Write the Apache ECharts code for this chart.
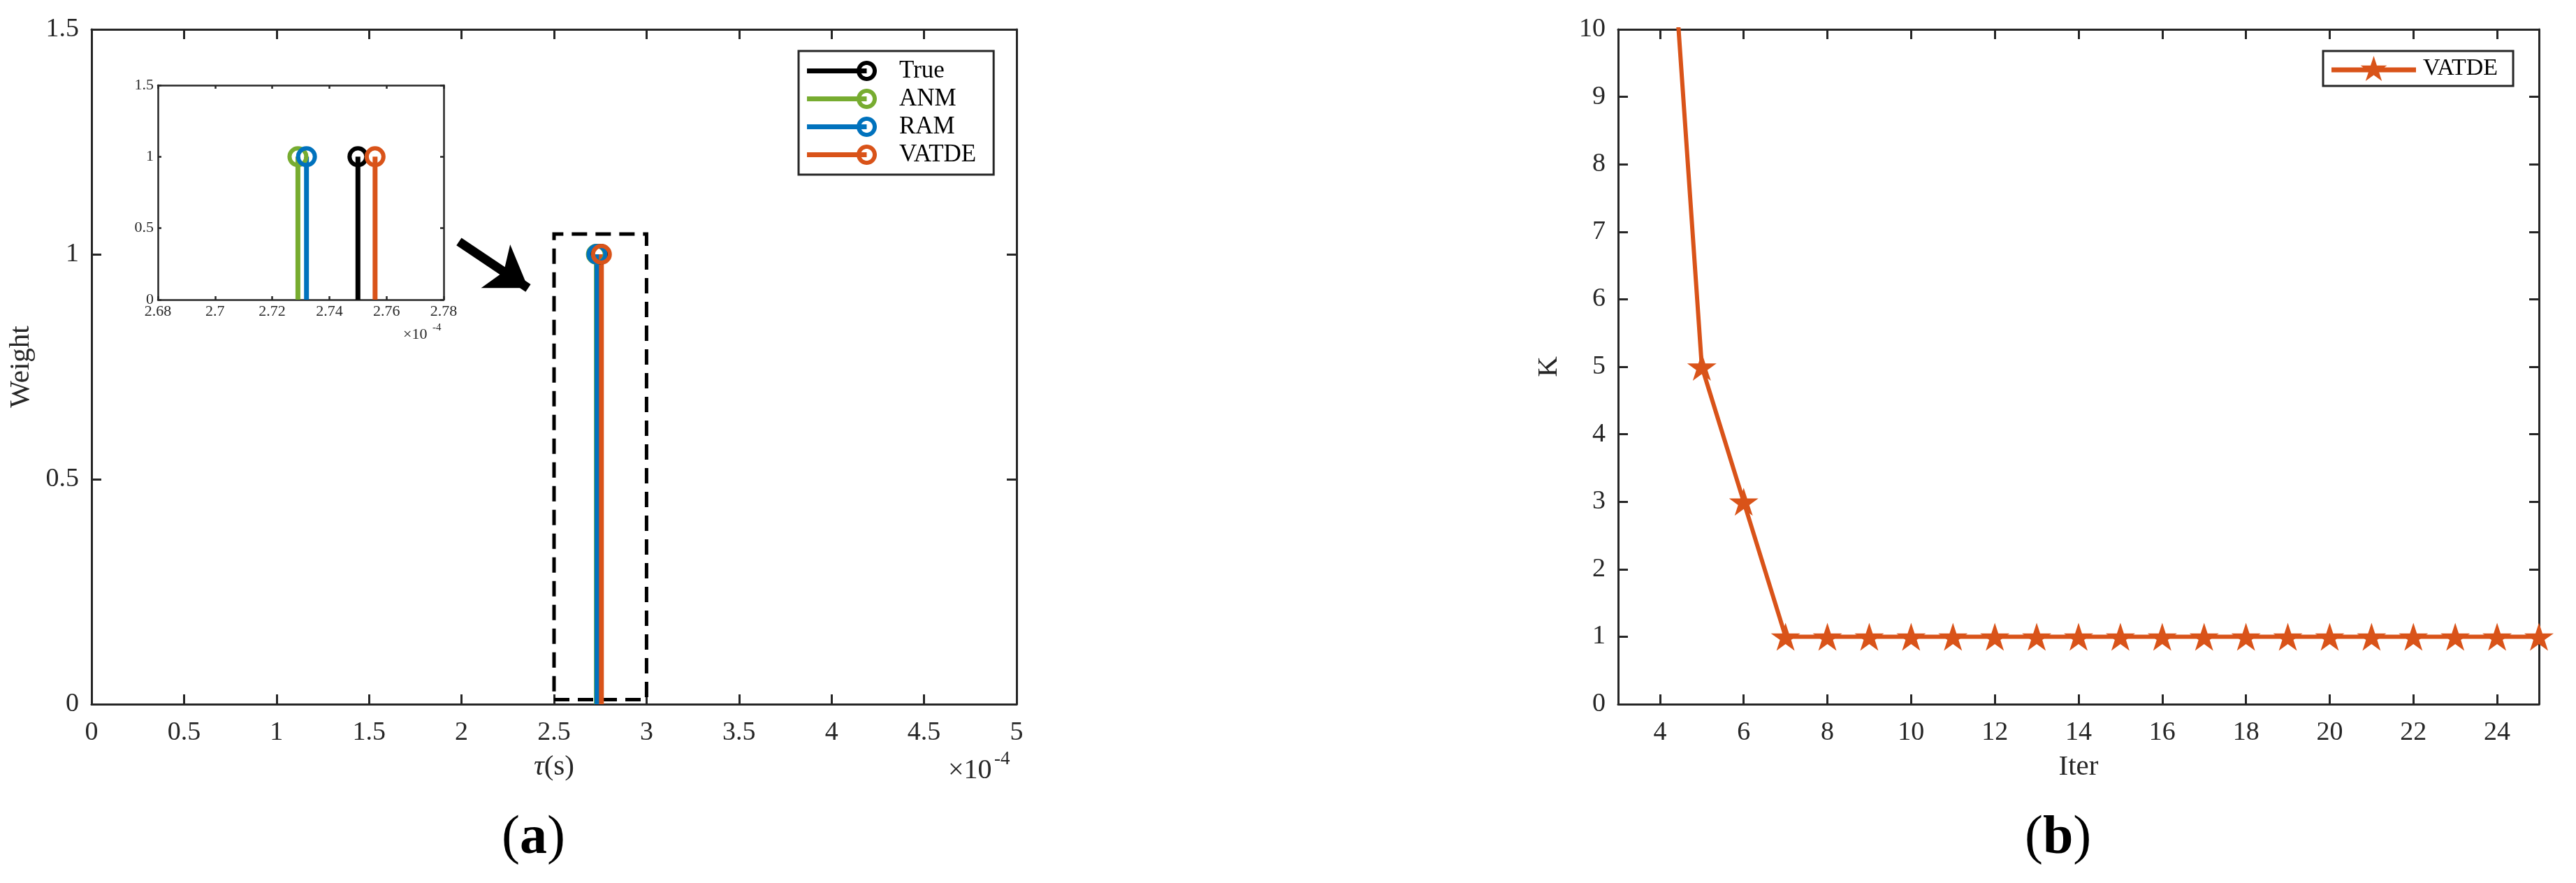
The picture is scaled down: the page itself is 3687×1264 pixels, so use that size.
<!DOCTYPE html>
<html>
<head>
<meta charset="utf-8">
<script src="https://cdn.jsdelivr.net/npm/echarts@6/dist/echarts.min.js"></script>
<style>
  html, body { margin: 0; padding: 0; background: #fff; }
  #chart { width: 3687px; height: 1264px; }
</style>
</head>
<body>
<div id="chart"></div>
<script>
// (a) delay estimates, tau in units of 1e-4 s
var methods = ['True', 'ANM', 'RAM', 'VATDE'];
var tauDelay = [2.75, 2.729, 2.732, 2.756];
var weights = [1, 1, 1, 1];
var methodColors = ['#000000', '#77AC30', '#0072BD', '#D95319'];

// (b) number of components per iteration
var iterations = [4, 5, 6, 7, 8, 9, 10, 11, 12, 13, 14, 15, 16, 17, 18, 19, 20, 21, 22, 23, 24, 25];
var kValues = [14, 5, 3, 1, 1, 1, 1, 1, 1, 1, 1, 1, 1, 1, 1, 1, 1, 1, 1, 1, 1, 1];
var iterTicks = [4, 6, 8, 10, 12, 14, 16, 18, 20, 22, 24];

var FONT = '"Liberation Serif", "Times New Roman", serif';
var AX = '#262626';

// polygon helpers for legend icons / star marker
function circlePts(cx, cy, r, ccw) {
  var s = '';
  var n = 40;
  for (var i = 0; i <= n; i++) {
    var a = (ccw ? -1 : 1) * i / n * Math.PI * 2;
    s += (i === 0 ? 'M' : 'L') + (cx + r * Math.cos(a)).toFixed(2) + ',' + (cy + r * Math.sin(a)).toFixed(2) + ' ';
  }
  return s + 'Z ';
}
function starPts(cx, cy, R) {
  var s = '';
  for (var i = 0; i < 10; i++) {
    var r = i % 2 === 0 ? R : R * 0.382;
    var a = -Math.PI / 2 + i * Math.PI / 5;
    s += (i === 0 ? 'M' : 'L') + (cx + r * Math.cos(a)).toFixed(2) + ',' + (cy + r * Math.sin(a)).toFixed(2) + ' ';
  }
  return s + 'Z ';
}
function rectPts(x, y, w, h) {
  return 'M' + x + ',' + y + ' L' + (x + w) + ',' + y + ' L' + (x + w) + ',' + (y + h) + ' L' + x + ',' + (y + h) + ' Z ';
}

var stemIcon = 'path://' + rectPts(0, 11, 85.5, 7) + circlePts(85.5, 14.5, 14.5, false) + circlePts(85.5, 14.5, 8.5, true);
var starR = 19.9;
var starLegendIcon = 'path://' + rectPts(0, 16.5, 121, 7) + starPts(60.5, starR, starR);
var starSymbol = 'path://' + starPts(50, 50, 50);

function stem(i, xIdx, yIdx) {
  var c = methodColors[i];
  return {
    name: methods[i],
    type: 'line',
    xAxisIndex: xIdx,
    yAxisIndex: yIdx,
    symbol: 'none',
    showSymbol: true,
    animation: false,
    emphasis: { disabled: true },
    lineStyle: { color: c, width: 7 },
    itemStyle: { color: c },
    data: [
      [tauDelay[i], 0],
      {
        value: [tauDelay[i], weights[i]],
        symbol: 'circle',
        symbolSize: 24,
        itemStyle: { color: 'rgba(255,255,255,0)', borderColor: c, borderWidth: 6 }
      }
    ]
  };
}

function boxAxis(grid, pos, min, max, interval, tickLen, lineW) {
  return {
    gridIndex: grid,
    type: 'value',
    position: pos,
    min: min,
    max: max,
    interval: interval,
    axisLine: { show: true, onZero: false, lineStyle: { color: AX, width: lineW } },
    axisTick: { show: true, inside: true, length: tickLen, lineStyle: { color: AX, width: lineW } },
    axisLabel: { show: false },
    splitLine: { show: false }
  };
}

var labelStyle = { fontSize: 38, color: AX, fontFamily: FONT };
var nameStyle = { fontSize: 41, color: AX, fontFamily: FONT };

var xMain = boxAxis(0, 'bottom', 0, 5, 0.5, 14, 3);
xMain.axisLabel = Object.assign({ show: true, margin: 22 }, labelStyle);
xMain.name = '{i|τ}(s)';
xMain.nameLocation = 'middle';
xMain.nameGap = 70;
xMain.nameTextStyle = Object.assign({ rich: { i: { fontStyle: 'italic', fontSize: 41, fontFamily: FONT, color: AX } } }, nameStyle);

var yMain = boxAxis(0, 'left', 0, 1.5, 0.5, 14, 3);
yMain.axisLabel = Object.assign({ show: true, margin: 18 }, labelStyle);
yMain.name = 'Weight';
yMain.nameLocation = 'middle';
yMain.nameGap = 80;
yMain.nameTextStyle = nameStyle;

var xInset = boxAxis(1, 'bottom', 2.68, 2.78, 0.02, 5, 2.5);
xInset.axisLabel = { show: true, margin: 6, fontSize: 22, color: AX, fontFamily: FONT };
var yInset = boxAxis(1, 'left', 0, 1.5, 0.5, 5, 2.5);
yInset.axisLabel = { show: true, margin: 6, fontSize: 22, color: AX, fontFamily: FONT };

var xIter = boxAxis(2, 'bottom', 3, 25, null, 14, 3);
delete xIter.interval;
xIter.axisTick.customValues = iterTicks;
xIter.axisLabel = Object.assign({ show: true, margin: 22, customValues: iterTicks }, labelStyle);
xIter.name = 'Iter';
xIter.nameLocation = 'middle';
xIter.nameGap = 70;
xIter.nameTextStyle = nameStyle;
var xIterTop = boxAxis(2, 'top', 3, 25, null, 14, 3);
delete xIterTop.interval;
xIterTop.axisTick.customValues = iterTicks;

var yK = boxAxis(2, 'left', 0, 10, 1, 14, 3);
yK.axisLabel = Object.assign({ show: true, margin: 18 }, labelStyle);
yK.name = 'K';
yK.nameLocation = 'middle';
yK.nameGap = 78;
yK.nameTextStyle = nameStyle;

var series = [];
for (var i = 0; i < methods.length; i++) series.push(stem(i, 0, 0));
for (var j = 0; j < methods.length; j++) series.push(stem(j, 2, 2));

// zoom box and arrow on the main panel
series[0].markArea = {
  silent: true,
  label: { show: false },
  itemStyle: { color: 'rgba(0,0,0,0)', borderColor: '#000', borderWidth: 5, borderType: [22, 12] },
  data: [[{ coord: [2.5, 0.01] }, { coord: [3.0, 1.045] }]]
};
series[0].markLine = {
  silent: true,
  animation: false,
  symbol: ['none', 'arrow'],
  symbolSize: 56,
  label: { show: false },
  lineStyle: { color: '#000', width: 13, type: 'solid' },
  data: [[{ coord: [1.986, 1.028] }, { coord: [2.36, 0.925] }]]
};

series.push({
  name: 'VATDE',
  type: 'line',
  xAxisIndex: 4,
  yAxisIndex: 4,
  clip: true,
  animation: false,
  symbol: starSymbol,
  symbolSize: [42, 40],
  lineStyle: { color: '#D95319', width: 6 },
  itemStyle: { color: '#D95319' },
  data: iterations.map(function (it, k) { return [it, kValues[k]]; })
});

var option = {
  backgroundColor: '#fff',
  animation: false,
  grid: [
    { left: 131, top: 42, width: 1324, height: 966 },
    { left: 226, top: 122, width: 409, height: 307 },
    { left: 2316, top: 42, width: 1318, height: 966 }
  ],
  xAxis: [
    xMain,
    boxAxis(0, 'top', 0, 5, 0.5, 14, 3),
    xInset,
    boxAxis(1, 'top', 2.68, 2.78, 0.02, 5, 2.5),
    xIter,
    xIterTop
  ],
  yAxis: [
    yMain,
    boxAxis(0, 'right', 0, 1.5, 0.5, 14, 3),
    yInset,
    boxAxis(1, 'right', 0, 1.5, 0.5, 5, 2.5),
    yK,
    boxAxis(2, 'right', 0, 10, 1, 14, 3)
  ],
  legend: [
    {
      orient: 'vertical',
      left: 1143,
      top: 73,
      selectedMode: false,
      padding: [11, 25, 11, 12],
      itemGap: 5,
      itemWidth: 100,
      itemHeight: 29,
      borderColor: AX,
      borderWidth: 3,
      backgroundColor: '#fff',
      itemStyle: { borderWidth: 0 },
      textStyle: { fontSize: 35, color: '#000', fontFamily: FONT, padding: [0, 0, 0, 27] },
      data: methods.map(function (m) { return { name: m, icon: stemIcon }; })
    },
    {
      orient: 'vertical',
      left: 3325,
      top: 73,
      selectedMode: false,
      padding: [7, 22, 7, 12],
      itemWidth: 121,
      itemHeight: 36,
      borderColor: AX,
      borderWidth: 3,
      backgroundColor: '#fff',
      itemStyle: { borderWidth: 0 },
      textStyle: { fontSize: 34, color: '#000', fontFamily: FONT, padding: [0, 0, 0, 5] },
      data: [{ name: 'VATDE', icon: starLegendIcon }]
    }
  ],
  graphic: [
    { type: 'text', left: 1357, top: 1083, style: { text: '×10', fontSize: 40, fontFamily: FONT, fill: AX } },
    { type: 'text', left: 1423, top: 1073, style: { text: '-4', fontSize: 27, fontFamily: FONT, fill: AX } },
    { type: 'text', left: 577, top: 468, z: 10, style: { text: '×10', fontSize: 22, fontFamily: FONT, fill: AX } },
    { type: 'text', left: 619, top: 462, z: 10, style: { text: '-4', fontSize: 15, fontFamily: FONT, fill: AX } },
    {
      type: 'text', left: 718, top: 1162,
      style: {
        text: '{p|(}{b|a}{p|)}', fontFamily: FONT, fill: '#000',
        rich: { p: { fontSize: 78, fontFamily: FONT }, b: { fontSize: 78, fontWeight: 'bold', fontFamily: FONT } }
      }
    },
    {
      type: 'text', left: 2898, top: 1162,
      style: {
        text: '{p|(}{b|b}{p|)}', fontFamily: FONT, fill: '#000',
        rich: { p: { fontSize: 78, fontFamily: FONT }, b: { fontSize: 78, fontWeight: 'bold', fontFamily: FONT } }
      }
    }
  ],
  series: series
};

var chart = echarts.init(document.getElementById('chart'));
chart.setOption(option);
</script>
</body>
</html>
